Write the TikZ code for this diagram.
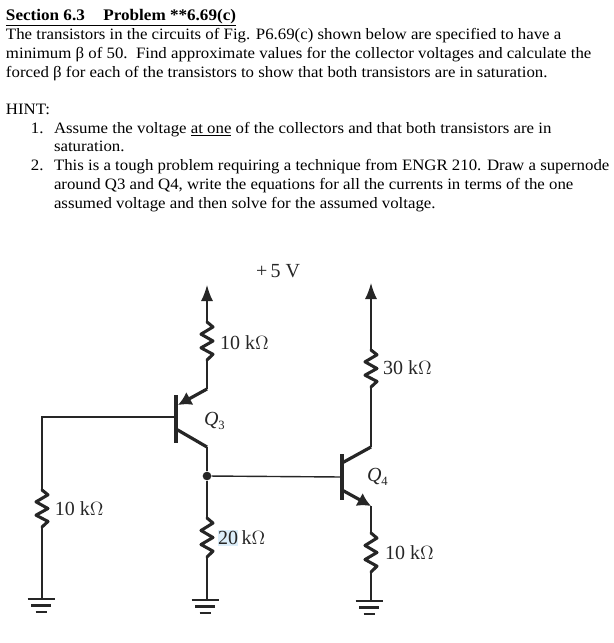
\documentclass[tikz,border=0pt]{standalone}
\usepackage{fontspec}
\setmainfont{Liberation Serif}[FakeStretch=1.06]
\newfontfamily\figfont{Liberation Serif}
\usetikzlibrary{arrows.meta}
\definecolor{wirecol}{HTML}{262626}
\definecolor{hl}{HTML}{DCEEFA}
\tikzset{
  x=0.75pt,y=-0.75pt,
  txt/.style={anchor=base west,inner sep=0pt,outer sep=0pt,font=\fontsize{11.9}{14}\selectfont,text=black},
  figlabel/.style={anchor=west,inner sep=0pt,outer sep=0pt,font=\figfont\fontsize{15}{17}\selectfont,text=wirecol},
  qlabel/.style={figlabel,font=\figfont\itshape\fontsize{15}{17}\selectfont},
  wire/.style={draw=wirecol,line width=1.05pt},
  bar/.style={draw=wirecol,line width=2.4pt},
  zig/.style={draw=wirecol,line width=2.3pt,line join=round,line cap=round},
  gbar/.style={draw=wirecol,line width=2.1pt},
  uparrow/.style={wire,-{Latex[length=12pt,width=9pt]}},
  emit/.style={bar,-{Latex[length=10pt,width=11pt]}},
  dotnode/.style={circle,fill=wirecol,inner sep=0pt,minimum size=6.5pt}
}
\newcommand{\myres}[3]{% x, top y, bottom y
  \draw[zig] (#1,#2)
    -- ({#1+6},{#2+(#3-#2)*0.13})
    -- ({#1-6},{#2+(#3-#2)*0.32})
    -- ({#1+6},{#2+(#3-#2)*0.50})
    -- ({#1-6},{#2+(#3-#2)*0.68})
    -- ({#1+6},{#2+(#3-#2)*0.85})
    -- (#1,#3);}
\newcommand{\myground}[2]{% x, y
  \draw[gbar] ({#1-13.5},#2) -- ({#1+13.5},#2);
  \draw[gbar] ({#1-10},{#2+6.5}) -- ({#1+10},{#2+6.5});
  \draw[gbar] ({#1-5.5},{#2+13}) -- ({#1+5.5},{#2+13});}
\begin{document}
\begin{tikzpicture}
\useasboundingbox (0,0) rectangle (614,643);
% problem text
\node[txt,font=\fontsize{12.1}{14}\selectfont] (t0) at (6,20) {\textbf{\underline{Section 6.3\hspace{13.9pt}Problem **6.69(c)}}};
\node[txt] (t1) at (6,39) {The transistors in the circuits of Fig. P6.69(c) shown below are specified to have a};
\node[txt] (t2) at (6,58) {minimum β of 50.\ \ Find approximate values for the collector voltages and calculate the};
\node[txt] (t3) at (6,77) {forced β for each of the transistors to show that both transistors are in saturation.};
\node[txt] (t4) at (6,114) {HINT:};
\node[txt] (n1) at (31,133) {1.};
\node[txt] (t5) at (54,133) {Assume the voltage \underline{at one} of the collectors and that both transistors are in};
\node[txt] (t6) at (54,151) {saturation.};
\node[txt] (n2) at (31,170) {2.};
\node[txt] (t7) at (54,170) {This is a tough problem requiring a technique from ENGR 210. Draw a supernode};
\node[txt] (t8) at (54,189) {around Q3 and Q4, write the equations for all the currents in terms of the one};
\node[txt] (t9) at (54,208) {assumed voltage and then solve for the assumed voltage.};
% circuit junctions
\coordinate (q3top) at (207,285);
\coordinate (r1t) at (207,322);
\coordinate (r1b) at (207,360);
\coordinate (q3e) at (207,389);
\coordinate (q3et) at (178,405);
\coordinate (q3b) at (176,417);
\coordinate (q3bt) at (176,395);
\coordinate (q3bb) at (176,443);
\coordinate (q3ci) at (176,429);
\coordinate (q3c) at (207,447);
\node[dotnode] (mid) at (207,476) {};
\coordinate (r2t) at (207,518);
\coordinate (r2b) at (207,557);
\coordinate (g2) at (207,600);
\coordinate (baseL) at (42,417);
\coordinate (r3t) at (42,490);
\coordinate (r3b) at (42,527);
\coordinate (g3) at (42,599);
\coordinate (q4b) at (342,477);
\coordinate (q4bt) at (342,454);
\coordinate (q4bb) at (342,500);
\coordinate (q4ci) at (342,463);
\coordinate (q4c) at (371,447);
\coordinate (r4b) at (371,387);
\coordinate (r4t) at (371,350);
\coordinate (q4top) at (371,283);
\coordinate (q4ei) at (342,490);
\coordinate (q4e) at (371,506);
\coordinate (r5t) at (371,533);
\coordinate (r5b) at (371,572);
\coordinate (g5) at (371,601);
% wires
\draw[uparrow] (r1t) -- (q3top);
\draw[wire] (r1b) -- (q3e);
\draw[emit] (q3e) -- (q3et);
\draw[bar] (q3bt) -- (q3bb);
\draw[bar] (q3ci) -- (q3c);
\draw[wire] (q3c) -- (mid);
\draw[wire] (mid) -- (r2t);
\draw[wire] (r2b) -- (g2);
\draw[wire] (r3t) -- (baseL) -- (q3b);
\draw[wire] (r3b) -- (g3);
\draw[wire] (mid) -- (q4b);
\draw[bar] (q4bt) -- (q4bb);
\draw[bar] (q4ci) -- (q4c);
\draw[wire] (q4c) -- (r4b);
\draw[uparrow] (r4t) -- (q4top);
\draw[emit] (q4ei) -- (q4e);
\draw[wire] (q4e) -- (r5t);
\draw[wire] (r5b) -- (g5);
% resistors and grounds
\myres{207}{322}{360}
\myres{371}{350}{387}
\myres{42}{490}{527}
\myres{207}{518}{557}
\myres{371}{533}{572}
\myground{41}{599}
\myground{205}{600}
\myground{369}{601}
% labels
\node[figlabel] (v5) at (256,271) {+\,5 V};
\node[figlabel] (l1) at (220,343) {10 k$\Omega$};
\node[figlabel] (l2) at (383,368) {30 k$\Omega$};
\node[figlabel] (l3) at (55,509) {10 k$\Omega$};
\node[figlabel] (l4) at (218,538) {\setlength{\fboxsep}{1pt}\colorbox{hl}{\hspace{-1pt}20\hspace{-1pt}}\hspace{-1pt} k$\Omega$};
\node[figlabel] (l5) at (385,553) {10 k$\Omega$};
\node[qlabel] (q3) at (204,421) {Q\raisebox{-2.5pt}{\fontsize{9.5}{10}\selectfont\upshape 3}};
\node[qlabel] (q4) at (367,477) {Q\raisebox{-2.5pt}{\fontsize{9.5}{10}\selectfont\upshape 4}};
\end{tikzpicture}
\end{document}
